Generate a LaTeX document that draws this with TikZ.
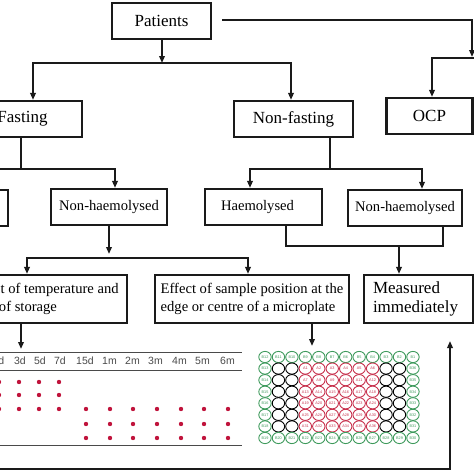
\documentclass[tikz,border=0pt]{standalone}
\usepackage{fontspec}
\setmainfont{Liberation Serif}
\setsansfont{Liberation Sans}
\usetikzlibrary{arrows.meta,shapes.geometric}
\definecolor{ink}{HTML}{1A1A1A}
\definecolor{dotred}{HTML}{C0143C}
\definecolor{wellgreen}{HTML}{3E9A5C}
\definecolor{wellred}{HTML}{C8324E}
\definecolor{tabgray}{HTML}{4A4A4A}
\begin{document}
\begin{tikzpicture}[x=1pt,y=-1pt,
  box/.style={draw=ink, line width=2.2pt, inner sep=0pt, minimum height=36pt,
    font=\fontsize{17}{20}\selectfont},
  midbox/.style={box, font=\fontsize{14.6}{18}\selectfont},
  arr/.style={draw=ink, line width=1.8pt, -{Triangle[length=7pt,width=5.5pt]}},
  conn/.style={draw=ink, line width=1.8pt},
  well/.style={ellipse, line width=0.9pt, inner sep=0pt, minimum width=12.4pt,
    minimum height=11.2pt, font=\sffamily\fontsize{3.8}{4}\selectfont},
  tablab/.style={text=tabgray, font=\sffamily\fontsize{10.5}{12}\selectfont, inner sep=0pt},
  tabline/.style={draw=tabgray, line width=0.9pt}]
\useasboundingbox (0,0) rectangle (474,474);
\fill[white] (0,0) rectangle (474,474);
\clip (0,0) rectangle (474,474);

% ---- boxes ----
\node[box, minimum width=99pt] (patients) at (161.5,21) {Patients};
\node[box, minimum width=119pt] (fasting) at (22.5,119) {Fasting};
\node[box, minimum width=119pt] (nonfasting) at (293.5,119) {Non-fasting};
\node[box, minimum width=86pt] (ocp) at (429.5,116) {OCP};
\node[midbox, minimum width=116pt] (haemL) at (-50,208) {Haemolysed};
\node[midbox, minimum width=116pt] (nonhaemL) at (109,207) {Non-haemolysed};
\node[midbox, minimum width=117pt, text width=85pt, align=left] (haemR) at (263.5,207) {Haemolysed};
\node[midbox, minimum width=114pt] (nonhaemR) at (405,208) {Non-haemolysed};
\node[midbox, minimum width=166pt, minimum height=48pt, align=left] (temp) at (44,299)
  {Effect of temperature and\\time of storage};
\node[midbox, minimum width=194pt, minimum height=48pt, align=left] (sample) at (252,299)
  {Effect of sample position at the\\edge or centre of a microplate};
\node[box, minimum width=109pt, minimum height=48pt, text width=91pt, align=left,
  font=\fontsize{17}{19.5}\selectfont] (measured) at (418.5,299) {Measured\\immediately};

% ---- connectors ----
\coordinate (pjoin) at (162,63);
\draw[arr] (patients.south -| pjoin) -- (pjoin);
\draw[arr] (pjoin) -| ([xshift=10.5pt]fasting.north);
\draw[arr] (pjoin) -| ([xshift=-2.5pt]nonfasting.north);

\coordinate (ocpdrop) at (472,57);
\coordinate (ocpbar) at (476,58);
\draw[arr] ([xshift=10pt,yshift=1pt]patients.east) -| (ocpdrop);
\draw[arr] (ocpbar) -| ([xshift=2.5pt]ocp.north);

\coordinate (fjoin) at (21,169);
\draw[conn] ([xshift=-1.5pt]fasting.south) -- (fjoin);
\draw[arr] (fjoin) -| (haemL.north);
\draw[arr] (fjoin) -| ([xshift=6pt]nonhaemL.north);

\coordinate (nfjoin) at (330,169);
\draw[conn] ([xshift=36.5pt]nonfasting.south) -- (nfjoin);
\draw[arr] (nfjoin) -| ([xshift=-13.5pt]haemR.north);
\draw[arr] (nfjoin) -| ([xshift=17pt]nonhaemR.north);

\coordinate (hjoin) at (399,246);
\draw[conn] ([xshift=22.5pt]haemR.south) |- (hjoin) -| ([xshift=38pt]nonhaemR.south);
\draw[arr] (hjoin) -- ([xshift=-19.5pt]measured.north);

\coordinate (nhjoin) at (109,258);
\coordinate (nhtip) at (109,254);
\draw[arr] (nonhaemL.south) -- (nhtip);
\draw[arr] (nhjoin) -| ([xshift=-17pt]temp.north);
\draw[arr] (nhjoin) -| ([xshift=-4pt]sample.north);

\coordinate (temptip) at (21,349);
\coordinate (sampletip) at (312,346);
\draw[arr] ([xshift=-23pt]temp.south) -- (temptip);
\draw[arr] ([xshift=60pt]sample.south) -- (sampletip);

\coordinate (bl) at (-5,469);
\coordinate (br) at (450,469);
\coordinate (bt) at (450,341);
\draw[arr, line width=2.2pt] (bl) -- (br) -- (bt);

% ---- table ----
\draw[tabline] (-2,352) -- (242,352);
\draw[tabline] (-2,370) -- (242,370);
\draw[tabline] (-2,445) -- (242,445);
\foreach \lab/\x [count=\i] in {1d/-1.5,3d/20,5d/40,7d/60,15d/85,1m/109.5,2m/132.5,3m/155.5,4m/179.5,5m/202.5,6m/227.5}
  \node[tablab] (h\i) at (\x,361) {\lab};
\foreach \x in {-1,19,39,59}{
  \fill[dotred] (\x,382) circle (2.2);
  \fill[dotred] (\x,395) circle (2.2);
  \fill[dotred] (\x,409) circle (2.2);
}
\foreach \x in {86,110,133,157,181,204,228}{
  \fill[dotred] (\x,409) circle (2.2);
  \fill[dotred] (\x,424) circle (2.2);
  \fill[dotred] (\x,438) circle (2.2);
}

% ---- microplate ----
\foreach \r in {1,...,8}{
  \foreach \c in {1,...,12}{
    \pgfmathsetmacro\px{265+13.45*(\c-1)}
    \pgfmathsetmacro\py{357+11.57*(\r-1)}
    \def\wc{black}\def\lab{}
    \ifnum\r=1 \pgfmathtruncatemacro\n{13-\c}\edef\lab{B\n}\def\wc{wellgreen}\fi
    \ifnum\r=8 \pgfmathtruncatemacro\n{18+\c}\edef\lab{B\n}\def\wc{wellgreen}\fi
    \ifnum\r>1 \ifnum\r<8
      \ifnum\c=1 \pgfmathtruncatemacro\n{11+\r}\edef\lab{B\n}\def\wc{wellgreen}\fi
      \ifnum\c=12 \pgfmathtruncatemacro\n{38-\r}\edef\lab{B\n}\def\wc{wellgreen}\fi
      \ifnum\c>3 \ifnum\c<10 \pgfmathtruncatemacro\n{(\r-2)*6+\c-3}\edef\lab{A\n}\def\wc{wellred}\fi\fi
    \fi\fi
    \node[well, draw=\wc, text=\wc] (w-\r-\c) at (\px,\py) {\lab};
  }
}
\end{tikzpicture}
\end{document}
